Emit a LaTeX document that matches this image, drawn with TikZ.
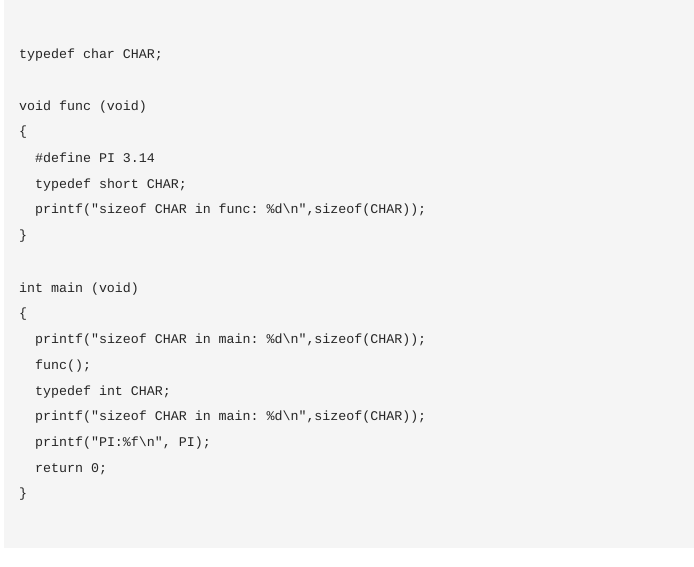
\documentclass[tikz,border=0pt]{standalone}
\usepackage{fontspec}
\setmonofont{Liberation Mono}
\begin{document}
\begin{tikzpicture}[x=1pt,y=-1pt,
  code/.style={anchor=base west,inner sep=0pt,font=\ttfamily\fontsize{13.3}{14}\selectfont,text=black!85}]
\useasboundingbox (0,0) rectangle (694,566);
\fill[black!4] (4,0) rectangle (694,548);
\node[code] (l1) at (19,58) {typedef char CHAR;};
\node[code] (l2) at (19,110) {void func (void)};
\node[code] (l3) at (19,135) {\{};
\node[code] (l4) at (35,162) {\#define PI 3.14};
\node[code] (l5) at (35,188) {typedef short CHAR;};
\node[code] (l6) at (35,213) {printf("sizeof CHAR in func: \%d\textbackslash n",sizeof(CHAR));};
\node[code] (l7) at (19,239) {\}};
\node[code] (l8) at (19,292) {int main (void)};
\node[code] (l9) at (19,317) {\{};
\node[code] (l10) at (35,343) {printf("sizeof CHAR in main: \%d\textbackslash n",sizeof(CHAR));};
\node[code] (l11) at (35,369) {func();};
\node[code] (l12) at (35,395) {typedef int CHAR;};
\node[code] (l13) at (35,420) {printf("sizeof CHAR in main: \%d\textbackslash n",sizeof(CHAR));};
\node[code] (l14) at (35,446) {printf("PI:\%f\textbackslash n", PI);};
\node[code] (l15) at (35,472) {return 0;};
\node[code] (l16) at (19,497) {\}};
\end{tikzpicture}
\end{document}
